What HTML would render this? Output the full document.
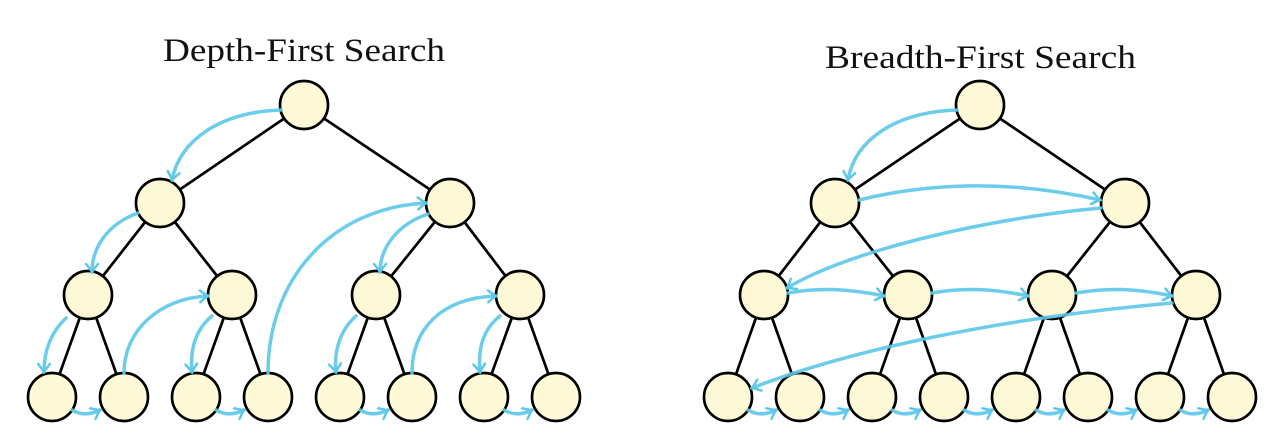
<!DOCTYPE html>
<html><head><meta charset="utf-8"><style>
html,body{margin:0;padding:0;background:#fff;width:1280px;height:438px;overflow:hidden}
</style></head><body>
<svg width="1280" height="438" viewBox="0 0 1280 438" xmlns="http://www.w3.org/2000/svg">
<defs>
<marker id="a" viewBox="-10 -7 12 14" markerWidth="12" markerHeight="14" refX="0" refY="0" orient="auto" markerUnits="userSpaceOnUse">
<path d="M-8,-6 Q-2,-1 0,0 Q-2,1 -8,6" fill="none" stroke="#5bc8e8" stroke-width="2.5" stroke-linecap="round"/>
</marker>
</defs>
<text x="163" y="61" font-family="Liberation Serif, serif" font-size="33" textLength="282" lengthAdjust="spacingAndGlyphs" fill="#111">Depth-First Search</text>
<text x="825" y="68" font-family="Liberation Serif, serif" font-size="33" textLength="311" lengthAdjust="spacingAndGlyphs" fill="#111">Breadth-First Search</text>
<g stroke="#000" stroke-width="2.7">
<line x1="304" y1="105" x2="160" y2="203"/><line x1="304" y1="105" x2="450" y2="203"/>
<line x1="160" y1="203" x2="88" y2="295"/><line x1="160" y1="203" x2="232" y2="295"/>
<line x1="450" y1="203" x2="376" y2="295"/><line x1="450" y1="203" x2="520" y2="295"/>
<line x1="88" y1="295" x2="52" y2="395"/><line x1="88" y1="295" x2="124" y2="395"/>
<line x1="232" y1="295" x2="196" y2="395"/><line x1="232" y1="295" x2="268" y2="395"/>
<line x1="376" y1="295" x2="340" y2="395"/><line x1="376" y1="295" x2="412" y2="395"/>
<line x1="520" y1="295" x2="484" y2="395"/><line x1="520" y1="295" x2="556" y2="395"/>
<line x1="980" y1="105" x2="835" y2="203"/><line x1="980" y1="105" x2="1125" y2="203"/>
<line x1="835" y1="203" x2="764" y2="295"/><line x1="835" y1="203" x2="908" y2="295"/>
<line x1="1125" y1="203" x2="1052" y2="295"/><line x1="1125" y1="203" x2="1196" y2="295"/>
<line x1="764" y1="295" x2="728" y2="397"/><line x1="764" y1="295" x2="800" y2="397"/>
<line x1="908" y1="295" x2="872" y2="397"/><line x1="908" y1="295" x2="944" y2="397"/>
<line x1="1052" y1="295" x2="1016" y2="397"/><line x1="1052" y1="295" x2="1088" y2="397"/>
<line x1="1196" y1="295" x2="1160" y2="397"/><line x1="1196" y1="295" x2="1232" y2="397"/>
</g>
<g fill="#fdf8d6" stroke="#000" stroke-width="2.7">
<circle cx="304" cy="105" r="24"/><circle cx="160" cy="203" r="24"/><circle cx="450" cy="203" r="24"/>
<circle cx="88" cy="295" r="24"/><circle cx="232" cy="295" r="24"/><circle cx="376" cy="295" r="24"/><circle cx="520" cy="295" r="24"/>
<circle cx="52" cy="397" r="24"/><circle cx="124" cy="397" r="24"/><circle cx="196" cy="397" r="24"/><circle cx="268" cy="397" r="24"/>
<circle cx="340" cy="397" r="24"/><circle cx="412" cy="397" r="24"/><circle cx="484" cy="397" r="24"/><circle cx="556" cy="397" r="24"/>
<circle cx="980" cy="105" r="24"/><circle cx="835" cy="203" r="24"/><circle cx="1125" cy="203" r="24"/>
<circle cx="764" cy="295" r="24"/><circle cx="908" cy="295" r="24"/><circle cx="1052" cy="295" r="24"/><circle cx="1196" cy="295" r="24"/>
<circle cx="728" cy="397" r="24"/><circle cx="800" cy="397" r="24"/><circle cx="872" cy="397" r="24"/><circle cx="944" cy="397" r="24"/>
<circle cx="1016" cy="397" r="24"/><circle cx="1088" cy="397" r="24"/><circle cx="1160" cy="397" r="24"/><circle cx="1232" cy="397" r="24"/>
</g>
<g fill="none" stroke="#5bc8e8" stroke-width="3.5" stroke-opacity="0.9" marker-end="url(#a)" stroke-linecap="round">
<path d="M281,110 C220,112 180,140 172,180"/>
<path d="M138,213 C105,225 92,250 92,272"/>
<path d="M66,318 C48,335 44,355 44,372"/>
<path d="M72,410 C82,416 92,414 100,410"/>
<path d="M124,373 C124,330 160,298 208,296"/>
<path d="M212,316 C195,330 190,350 192,372"/>
<path d="M216,410 C226,416 236,414 244,410"/>
<path d="M268,373 C268,280 330,208 426,203"/>
<path d="M428,214 C395,225 380,250 380,272"/>
<path d="M356,316 C338,332 334,355 336,372"/>
<path d="M360,410 C370,416 380,414 388,410"/>
<path d="M412,373 C412,330 440,298 496,296"/>
<path d="M500,316 C482,330 478,350 480,372"/>
<path d="M504,410 C514,416 524,414 532,410"/>
<path d="M957,110 C895,112 855,140 848,180"/>
<path d="M859,200 C940,180 1020,182 1100,200"/>
<path d="M1101,208 C990,218 850,250 787,288"/>
<path d="M788,293 C820,287 850,289 884,296"/>
<path d="M932,293 C965,287 995,289 1028,296"/>
<path d="M1076,293 C1110,287 1140,289 1172,296"/>
<path d="M1172,303 C1000,318 850,350 752,388"/>
<path d="M748,410 C758,416 768,414 776,410"/>
<path d="M820,410 C830,416 840,414 848,410"/>
<path d="M892,410 C902,416 912,414 920,410"/>
<path d="M964,410 C974,416 984,414 992,410"/>
<path d="M1036,410 C1046,416 1056,414 1064,410"/>
<path d="M1108,410 C1118,416 1128,414 1136,410"/>
<path d="M1180,410 C1190,416 1200,414 1208,410"/>
</g>
</svg>
</body></html>
